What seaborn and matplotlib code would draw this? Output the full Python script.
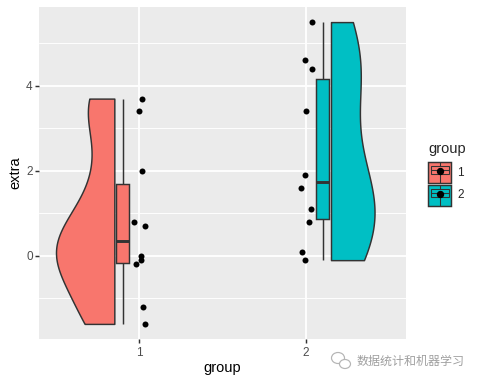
import numpy as np
import pandas as pd
import matplotlib
matplotlib.use("Agg")
import matplotlib.pyplot as plt
from matplotlib.patches import Rectangle, Ellipse
from matplotlib.lines import Line2D
from matplotlib.ticker import FixedLocator
import seaborn as sns

# sleep data: extra hours of sleep per group
extra_g1 = [0.7, -1.6, -0.2, -1.2, -0.1, 3.4, 3.7, 0.8, 0.0, 2.0]
extra_g2 = [1.9, 0.8, 1.1, 0.1, -0.1, 4.4, 5.5, 1.6, 4.6, 3.4]
# horizontal jitter of each point
jitter_g1 = [0.036, 0.036, -0.018, 0.024, 0.012, 0.0, 0.018, -0.03, 0.012, 0.018]
jitter_g2 = [-0.004, 0.02, 0.032, -0.022, -0.004, 0.038, 0.038, -0.028, -0.004, 0.002]
groups = ["1", "2"]

colors = {"1": "#F8766D", "2": "#00BFC4"}
violin_shift = {"1": -0.15, "2": 0.15}
violin_side = {"1": -1, "2": 1}
box_shift = {"1": -0.10, "2": 0.10}
VIOLIN_MAX = 0.35
EDGE = "#333333"
LW = 1.1

df = pd.DataFrame({
    "extra": extra_g1 + extra_g2,
    "group": ["1"] * len(extra_g1) + ["2"] * len(extra_g2),
    "jit": jitter_g1 + jitter_g2,
})
df["gnum"] = df["group"].astype(int)


def r_density(x, n=512):
    # gaussian KDE with R's bw.nrd0, trimmed to the data range (ggplot violin)
    x = np.asarray(x, float)
    iqr = np.subtract(*np.percentile(x, [75, 25]))
    bw = 0.9 * min(x.std(ddof=1), iqr / 1.34) * len(x) ** -0.2
    grid = np.linspace(x.min(), x.max(), n)
    z = (grid[:, None] - x[None, :]) / bw
    dens = np.exp(-0.5 * z ** 2).sum(axis=1) / (len(x) * bw * np.sqrt(2 * np.pi))
    return grid, dens


sns.set_theme(style="darkgrid", rc={
    "axes.facecolor": "#EBEBEB", "grid.color": "white", "grid.linewidth": 1.4,
    "xtick.bottom": True, "ytick.left": True,
    "xtick.color": EDGE, "ytick.color": EDGE,
    "xtick.major.size": 2.75, "ytick.major.size": 2.75,
    "xtick.major.width": 1.1, "ytick.major.width": 1.1,
    "xtick.major.pad": 3, "ytick.major.pad": 2,
})
plt.rcParams["font.family"] = ["Liberation Sans", "DejaVu Sans"]

fig = plt.figure(figsize=(5, 4), dpi=96)
ax = fig.add_axes([39 / 480, 1 - 339 / 384, (406 - 39) / 480, (339 - 7) / 384])

# half violins, scaled to equal area (ggplot scale = "area")
dens = {g: r_density(df.loc[df["group"] == g, "extra"]) for g in groups}
dmax = max(d.max() for _, d in dens.values())
for g in groups:
    grid, d = dens[g]
    base = int(g) + violin_shift[g]
    ax.fill_betweenx(grid, base, base + violin_side[g] * VIOLIN_MAX * d / dmax,
                     facecolor=colors[g], edgecolor=EDGE, linewidth=LW, zorder=2)

# narrow boxplots
bx = df.copy()
bx["pos"] = bx["gnum"] + bx["group"].map(box_shift)
sns.boxplot(data=bx, x="pos", y="extra", hue="group", hue_order=groups,
            palette=colors, native_scale=True, dodge=False, width=0.078 / 1.2,
            linewidth=LW, linecolor=EDGE, saturation=1, showcaps=False,
            whis=1.5, medianprops={"linewidth": 2.2}, legend=False, ax=ax)

# jittered points
sns.stripplot(x=df["gnum"] + df["jit"], y=df["extra"], native_scale=True,
              jitter=False, color="black", size=4.5, linewidth=0, ax=ax, zorder=4)

ax.set_xlim(0.398, 2.60)
ax.set_ylim(-1.955, 5.855)
ax.xaxis.set_major_locator(FixedLocator([1, 2]))
ax.set_xticklabels(["1", "2"])
ax.yaxis.set_major_locator(FixedLocator([0, 2, 4]))
ax.yaxis.set_minor_locator(FixedLocator([-1, 1, 3, 5]))
ax.grid(which="minor", axis="y", color="white", linewidth=0.7)
ax.tick_params(which="minor", length=0)
ax.tick_params(labelsize=8.8, labelcolor="#4D4D4D")
for s in ax.spines.values():
    s.set_visible(False)
ax.set_xlabel("group", fontsize=11, color="black", labelpad=2)
ax.set_ylabel("extra", fontsize=11, color="black", labelpad=3)

# legend: fill key with a mini boxplot and a point, drawn in figure pixels
def fx(px):
    return px / 480


def fy(py):
    return 1 - py / 384


fig.text(fx(428), fy(149), "group", fontsize=11, va="center", ha="left")
for i, g in enumerate(groups):
    top = 162 + i * 23
    fig.add_artist(Rectangle((fx(428), fy(top + 21)), 23 / 480, 21 / 384,
                             transform=fig.transFigure, facecolor=colors[g],
                             edgecolor=EDGE, linewidth=LW))
    fig.add_artist(Rectangle((fx(430.5), fy(top + 12)), 18 / 480, 8 / 384,
                             transform=fig.transFigure, facecolor=colors[g],
                             edgecolor=EDGE, linewidth=0.8))
    fig.add_artist(Line2D([fx(430.5), fx(448.5)], [fy(top + 8), fy(top + 8)],
                          transform=fig.transFigure, color=EDGE, linewidth=0.8))
    for y0, y1 in [(top, top + 4), (top + 12, top + 21)]:
        fig.add_artist(Line2D([fx(439.5)] * 2, [fy(y0), fy(y1)],
                              transform=fig.transFigure, color=EDGE, linewidth=0.8))
    fig.add_artist(Line2D([fx(439.5)], [fy(top + 8.5)], transform=fig.transFigure,
                          marker="o", color="black", markersize=4.5, linestyle="none"))
    fig.text(fx(457), fy(top + 10.5), g, fontsize=8.8, va="center", ha="left")

# watermark: small chat-bubble icon and caption
for cx, cy, w, h in [(338, 358, 13, 11), (345, 364, 11, 9)]:
    fig.add_artist(Ellipse((fx(cx), fy(cy)), w / 480, h / 384,
                           transform=fig.transFigure, facecolor="white",
                           edgecolor="#B5B5B5", linewidth=0.9))
fig.text(fx(357), fy(361), "数据统计和机器学习", fontsize=9, color="#A0A0A0",
         va="center", ha="left", family=["Noto Sans CJK SC", "DejaVu Sans"])

fig.savefig("out.png", dpi=96)
